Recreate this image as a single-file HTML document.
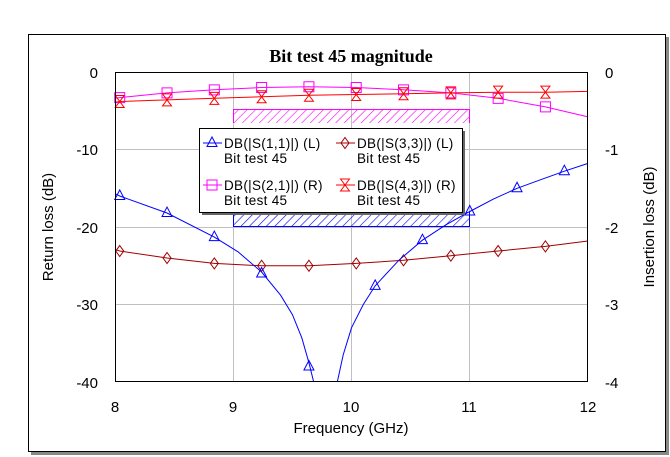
<!DOCTYPE html>
<html><head><meta charset="utf-8"><style>
html,body{margin:0;padding:0;background:#fff;width:670px;height:457px;overflow:hidden}
svg{display:block}
text{font-family:"Liberation Sans",sans-serif}
</style></head><body>
<svg id="s" width="670" height="457" xmlns="http://www.w3.org/2000/svg">
<defs>
<pattern id="hm" width="6" height="6" patternUnits="userSpaceOnUse" patternTransform="rotate(45)"><line x1="0" y1="0" x2="0" y2="6" stroke="#ff00ff" stroke-width="1.2"/></pattern>
<pattern id="hb" width="6" height="6" patternUnits="userSpaceOnUse" patternTransform="rotate(45)"><line x1="0" y1="0" x2="0" y2="6" stroke="#0000ff" stroke-width="1.2"/></pattern>
</defs>
<rect x="31" y="37" width="638" height="418" fill="#888"/>
<rect x="28.5" y="34.5" width="637" height="417" fill="#fff" stroke="#000"/>
<text x="351" y="62" text-anchor="middle" style="font-family:'Liberation Serif',serif;font-weight:bold;font-size:18px">Bit test 45 magnitude</text>
<g stroke="#c0c0c0" stroke-width="1">
<line x1="233.5" y1="72" x2="233.5" y2="382"/><line x1="351.5" y1="72" x2="351.5" y2="382"/><line x1="469.5" y1="72" x2="469.5" y2="382"/>
<line x1="115" y1="149.5" x2="588" y2="149.5"/><line x1="115" y1="227.5" x2="588" y2="227.5"/><line x1="115" y1="304.5" x2="588" y2="304.5"/>
</g>
<rect x="233.5" y="109" width="236" height="14" fill="url(#hm)"/>
<polyline points="233.5,123 233.5,109.5 469.5,109.5 469.5,123" fill="none" stroke="#ff00ff"/>
<rect x="233.5" y="212" width="236" height="15" fill="url(#hb)"/>
<polyline points="233.5,212 233.5,226.5 469.5,226.5 469.5,212" fill="none" stroke="#0000ff"/>
<g id="curves"></g>
<rect x="115.5" y="72.5" width="472" height="309" fill="none" stroke="#000"/>
<rect x="202" y="131" width="263" height="84" fill="#666"/>
<rect x="199.5" y="128.5" width="263" height="84" fill="#fff" stroke="#000"/>
<g font-size="13.5" letter-spacing="0.3">
<text x="224" y="148">DB(|S(1,1)|) (L)</text><text x="224" y="163">Bit test 45</text>
<text x="357" y="148">DB(|S(3,3)|) (L)</text><text x="357" y="163">Bit test 45</text>
<text x="224" y="190">DB(|S(2,1)|) (R)</text><text x="224" y="205">Bit test 45</text>
<text x="357" y="190">DB(|S(4,3)|) (R)</text><text x="357" y="205">Bit test 45</text>
</g>
<g id="leg"></g>
<g font-size="15" text-anchor="end">
<text x="98" y="78">0</text><text x="98" y="155">-10</text><text x="98" y="233">-20</text><text x="98" y="310">-30</text><text x="98" y="388">-40</text>
</g>
<g font-size="15" text-anchor="start">
<text x="605" y="78">0</text><text x="605" y="155">-1</text><text x="605" y="233">-2</text><text x="605" y="310">-3</text><text x="605" y="388">-4</text>
</g>
<g font-size="15" text-anchor="middle">
<text x="115" y="412">8</text><text x="233" y="412">9</text><text x="351" y="412">10</text><text x="469" y="412">11</text><text x="588" y="412">12</text>
<text x="351" y="433">Frequency (GHz)</text>
<text transform="translate(53,227) rotate(-90)">Return loss (dB)</text>
<text transform="translate(654,227) rotate(-90)">Insertion loss (dB)</text>
</g>
</svg>
<script>
var NS="http://www.w3.org/2000/svg",g=document.getElementById('curves'),lg=document.getElementById('leg');
function X(f){return 115+(f-8)*118.25}function YL(v){return 72-v*7.75}function YR(v){return 72-v*77.5}
function line(pts,fy,col,par){var p=document.createElementNS(NS,'polyline');p.setAttribute('points',pts.map(function(q){return X(q[0]).toFixed(1)+','+fy(q[1]).toFixed(1)}).join(' '));p.setAttribute('fill','none');p.setAttribute('stroke',col);(par||g).appendChild(p);}
function mk(type,x,y,col,par){var e=document.createElementNS(NS,'path'),d;
if(type=='tri')d='M'+x+','+(y-6)+'L'+(x+5)+','+(y+3.5)+'L'+(x-5)+','+(y+3.5)+'Z';
if(type=='sq')d='M'+(x-5)+','+(y-5)+'h10v10h-10Z';
if(type=='dia')d='M'+x+','+(y-5.5)+'L'+(x+4)+','+y+'L'+x+','+(y+5.5)+'L'+(x-4)+','+y+'Z';
if(type=='hg')d='M'+(x-4.5)+','+(y-6)+'h9L'+(x-4.5)+','+(y+6)+'h9Z';
e.setAttribute('d',d);e.setAttribute('fill','none');e.setAttribute('stroke',col);(par||g).appendChild(e);}
var s33=[[8,-22.9],[8.04,-23.1],[8.44,-24],[8.84,-24.7],[9.24,-25],[9.64,-25],[10.04,-24.7],[10.44,-24.3],[10.84,-23.7],[11.24,-23.1],[11.64,-22.5],[12,-21.8]];
line(s33,YL,'#a00000');s33.slice(1,-1).forEach(function(q){mk('dia',X(q[0]),YL(q[1]),'#a00000')});
var l=[[8,-15.7],[8.04,-16],[8.44,-18.2],[8.84,-21.3],[9.04,-23.2],[9.24,-25.8],[9.4,-28.8],[9.5,-31.3],[9.58,-34.3],[9.64,-37.5],[9.68,-40]];
var r=[[9.88,-40],[9.93,-36.5],[10,-33],[10.1,-30],[10.2,-27.6],[10.4,-24.3],[10.6,-21.7],[10.8,-19.7],[11,-18],[11.2,-16.4],[11.4,-15],[11.6,-13.9],[11.8,-12.8],[12,-11.8]];
line(l,YL,'#0000ff');line(r,YL,'#0000ff');
[[8.04,-16],[8.44,-18.2],[8.84,-21.3],[9.24,-26],[9.64,-38],[10.2,-27.6],[10.6,-21.7],[11,-18],[11.4,-15],[11.8,-12.8]].forEach(function(q){mk('tri',X(q[0]),YL(q[1]),'#0000ff')});
var s21=[[8,-0.34],[8.04,-0.33],[8.44,-0.27],[8.84,-0.23],[9.24,-0.2],[9.64,-0.19],[10.04,-0.2],[10.44,-0.23],[10.84,-0.27],[11.24,-0.34],[11.64,-0.45],[12,-0.58]];
line(s21,YR,'#ff00ff');s21.slice(1,-1).forEach(function(q){mk('sq',X(q[0]),YR(q[1]),'#ff00ff')});
var s43=[[8,-0.39],[8.04,-0.38],[8.44,-0.36],[8.84,-0.34],[9.24,-0.32],[9.64,-0.3],[10.04,-0.29],[10.44,-0.28],[10.84,-0.27],[11.24,-0.26],[11.64,-0.26],[12,-0.25]];
line(s43,YR,'#ff0000');s43.slice(1,-1).forEach(function(q){mk('hg',X(q[0]),YR(q[1]),'#ff0000')});
function ll(x1,x2,y,col){var p=document.createElementNS(NS,'line');p.setAttribute('x1',x1);p.setAttribute('x2',x2);p.setAttribute('y1',y);p.setAttribute('y2',y);p.setAttribute('stroke',col);lg.appendChild(p);}
ll(203,222,143,'#0000ff');mk('tri',212,143,'#0000ff',lg);
ll(336,355,143,'#a00000');mk('dia',345,143,'#a00000',lg);
ll(203,222,185,'#ff00ff');mk('sq',212,185,'#ff00ff',lg);
ll(336,355,185,'#ff0000');mk('hg',345,185,'#ff0000',lg);
</script>
</body></html>
